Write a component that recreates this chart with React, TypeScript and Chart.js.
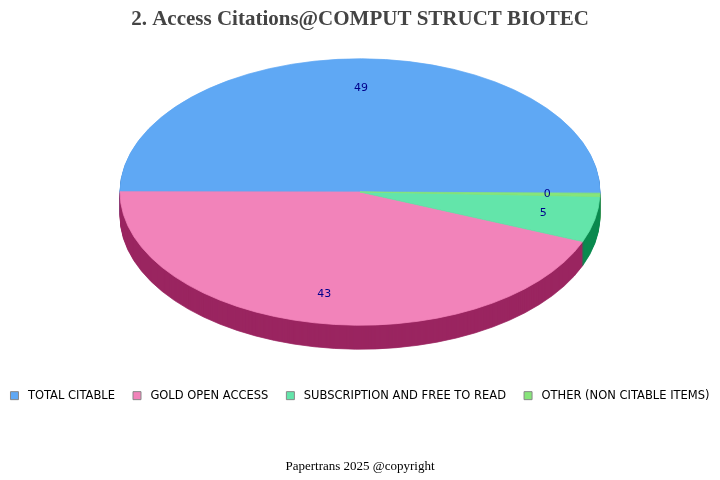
import React, { useEffect, useRef } from "react";
import Chart from "chart.js/auto";

const labels = [
  "TOTAL CITABLE",
  "GOLD OPEN ACCESS",
  "SUBSCRIPTION AND FREE TO READ",
  "OTHER (NON CITABLE ITEMS)",
];
const values = [49, 43, 5.4, 0.4];
const topColors = ["#5FA8F4", "#F283BA", "#63E5AA", "#87E57A"];
const sideColors = ["#2E6DB3", "#9A2560", "#0A8A4F", "#3F9A3A"];

const TILT = 0.555; // vertical squash of the pie
const DEPTH = 24; // thickness of the pie side in px
const PIE_CY = 192; // where the top face sits on the page

// slices run counter-clockwise in the original, so the pie is mirrored
const pie3d = {
  id: "pie3d",
  beforeDatasetsDraw(chart: any) {
    const arcs = chart.getDatasetMeta(0).data;
    if (!arcs.length) return;
    const { x: cx, y: cy } = arcs[0];
    const ctx = chart.ctx;
    const project = () => {
      ctx.translate(cx, PIE_CY);
      ctx.scale(-1, TILT);
      ctx.translate(-cx, -cy);
    };
    // side walls, deepest first
    for (let d = DEPTH; d >= 1; d--) {
      ctx.save();
      ctx.translate(0, d);
      project();
      arcs.forEach((arc: any, i: number) => {
        const orig = arc.options;
        arc.options = { ...orig, backgroundColor: sideColors[i], borderColor: sideColors[i] };
        arc.draw(ctx);
        arc.options = orig;
      });
      ctx.restore();
    }
    // top face is drawn by the library inside this transform
    ctx.save();
    project();
  },
  afterDatasetsDraw(chart: any) {
    const ctx = chart.ctx;
    ctx.restore();
    const arcs = chart.getDatasetMeta(0).data;
    ctx.save();
    ctx.font = "11px 'DejaVu Sans', sans-serif";
    ctx.fillStyle = "#00008B";
    ctx.textAlign = "center";
    ctx.textBaseline = "middle";
    arcs.forEach((arc: any, i: number) => {
      const { x, startAngle, endAngle, outerRadius } = arc.getProps(
        ["x", "startAngle", "endAngle", "outerRadius"],
        true
      );
      const mid = (startAngle + endAngle) / 2;
      const r = outerRadius * 0.78;
      const px = x - Math.cos(mid) * r;
      const py = PIE_CY + Math.sin(mid) * r * TILT;
      ctx.fillText(String(Math.round(values[i])), px, py);
    });
    ctx.restore();
  },
};

const App = () => {
  const chartRef = useRef<HTMLCanvasElement | null>(null);
  const chartInstanceRef = useRef<Chart | null>(null);

  useEffect(() => {
    document.body.style.margin = "0";
    const ctx = chartRef.current?.getContext("2d");
    if (!ctx) return;

    if (chartInstanceRef.current) {
      chartInstanceRef.current.destroy();
    }

    chartInstanceRef.current = new Chart(ctx, {
      type: "pie",
      data: {
        labels: labels,
        datasets: [
          {
            data: values,
            backgroundColor: topColors,
            borderColor: topColors,
            borderWidth: 1,
            radius: 240,
            clip: false,
          } as any,
        ],
      },
      options: {
        responsive: true,
        maintainAspectRatio: false,
        animation: false,
        rotation: -90.5,
        layout: { padding: { left: -20, right: -20 } },
        plugins: {
          title: {
            display: true,
            text: "2. Access Citations@COMPUT STRUCT BIOTEC",
            color: "#444",
            font: { family: "'Liberation Serif', 'Times New Roman', serif", size: 21, weight: "bold" },
            padding: { top: 7, bottom: 10 },
          },
          subtitle: {
            display: true,
            position: "bottom",
            text: "Papertrans 2025 @copyright",
            color: "#000",
            font: { family: "'Liberation Serif', 'Times New Roman', serif", size: 13 },
            padding: { top: 47, bottom: 6 },
          },
          legend: {
            position: "bottom",
            labels: {
              color: "#000",
              font: { family: "'DejaVu Sans', sans-serif", size: 11.5 },
              boxWidth: 8,
              boxHeight: 8,
              padding: 18,
              generateLabels: (chart: any) =>
                chart.data.labels.map((text: string, i: number) => ({
                  text: " " + text,
                  fillStyle: topColors[i],
                  strokeStyle: "#888",
                  lineWidth: 1,
                  hidden: false,
                  index: i,
                })),
            },
          },
          tooltip: { enabled: false },
        },
      },
      plugins: [pie3d],
    });

    return () => {
      if (chartInstanceRef.current) {
        chartInstanceRef.current.destroy();
        chartInstanceRef.current = null;
      }
    };
  }, []);

  return (
    <div style={{ width: 720, height: 480, position: "relative" }}>
      <canvas ref={chartRef}></canvas>
    </div>
  );
};

export default App;
